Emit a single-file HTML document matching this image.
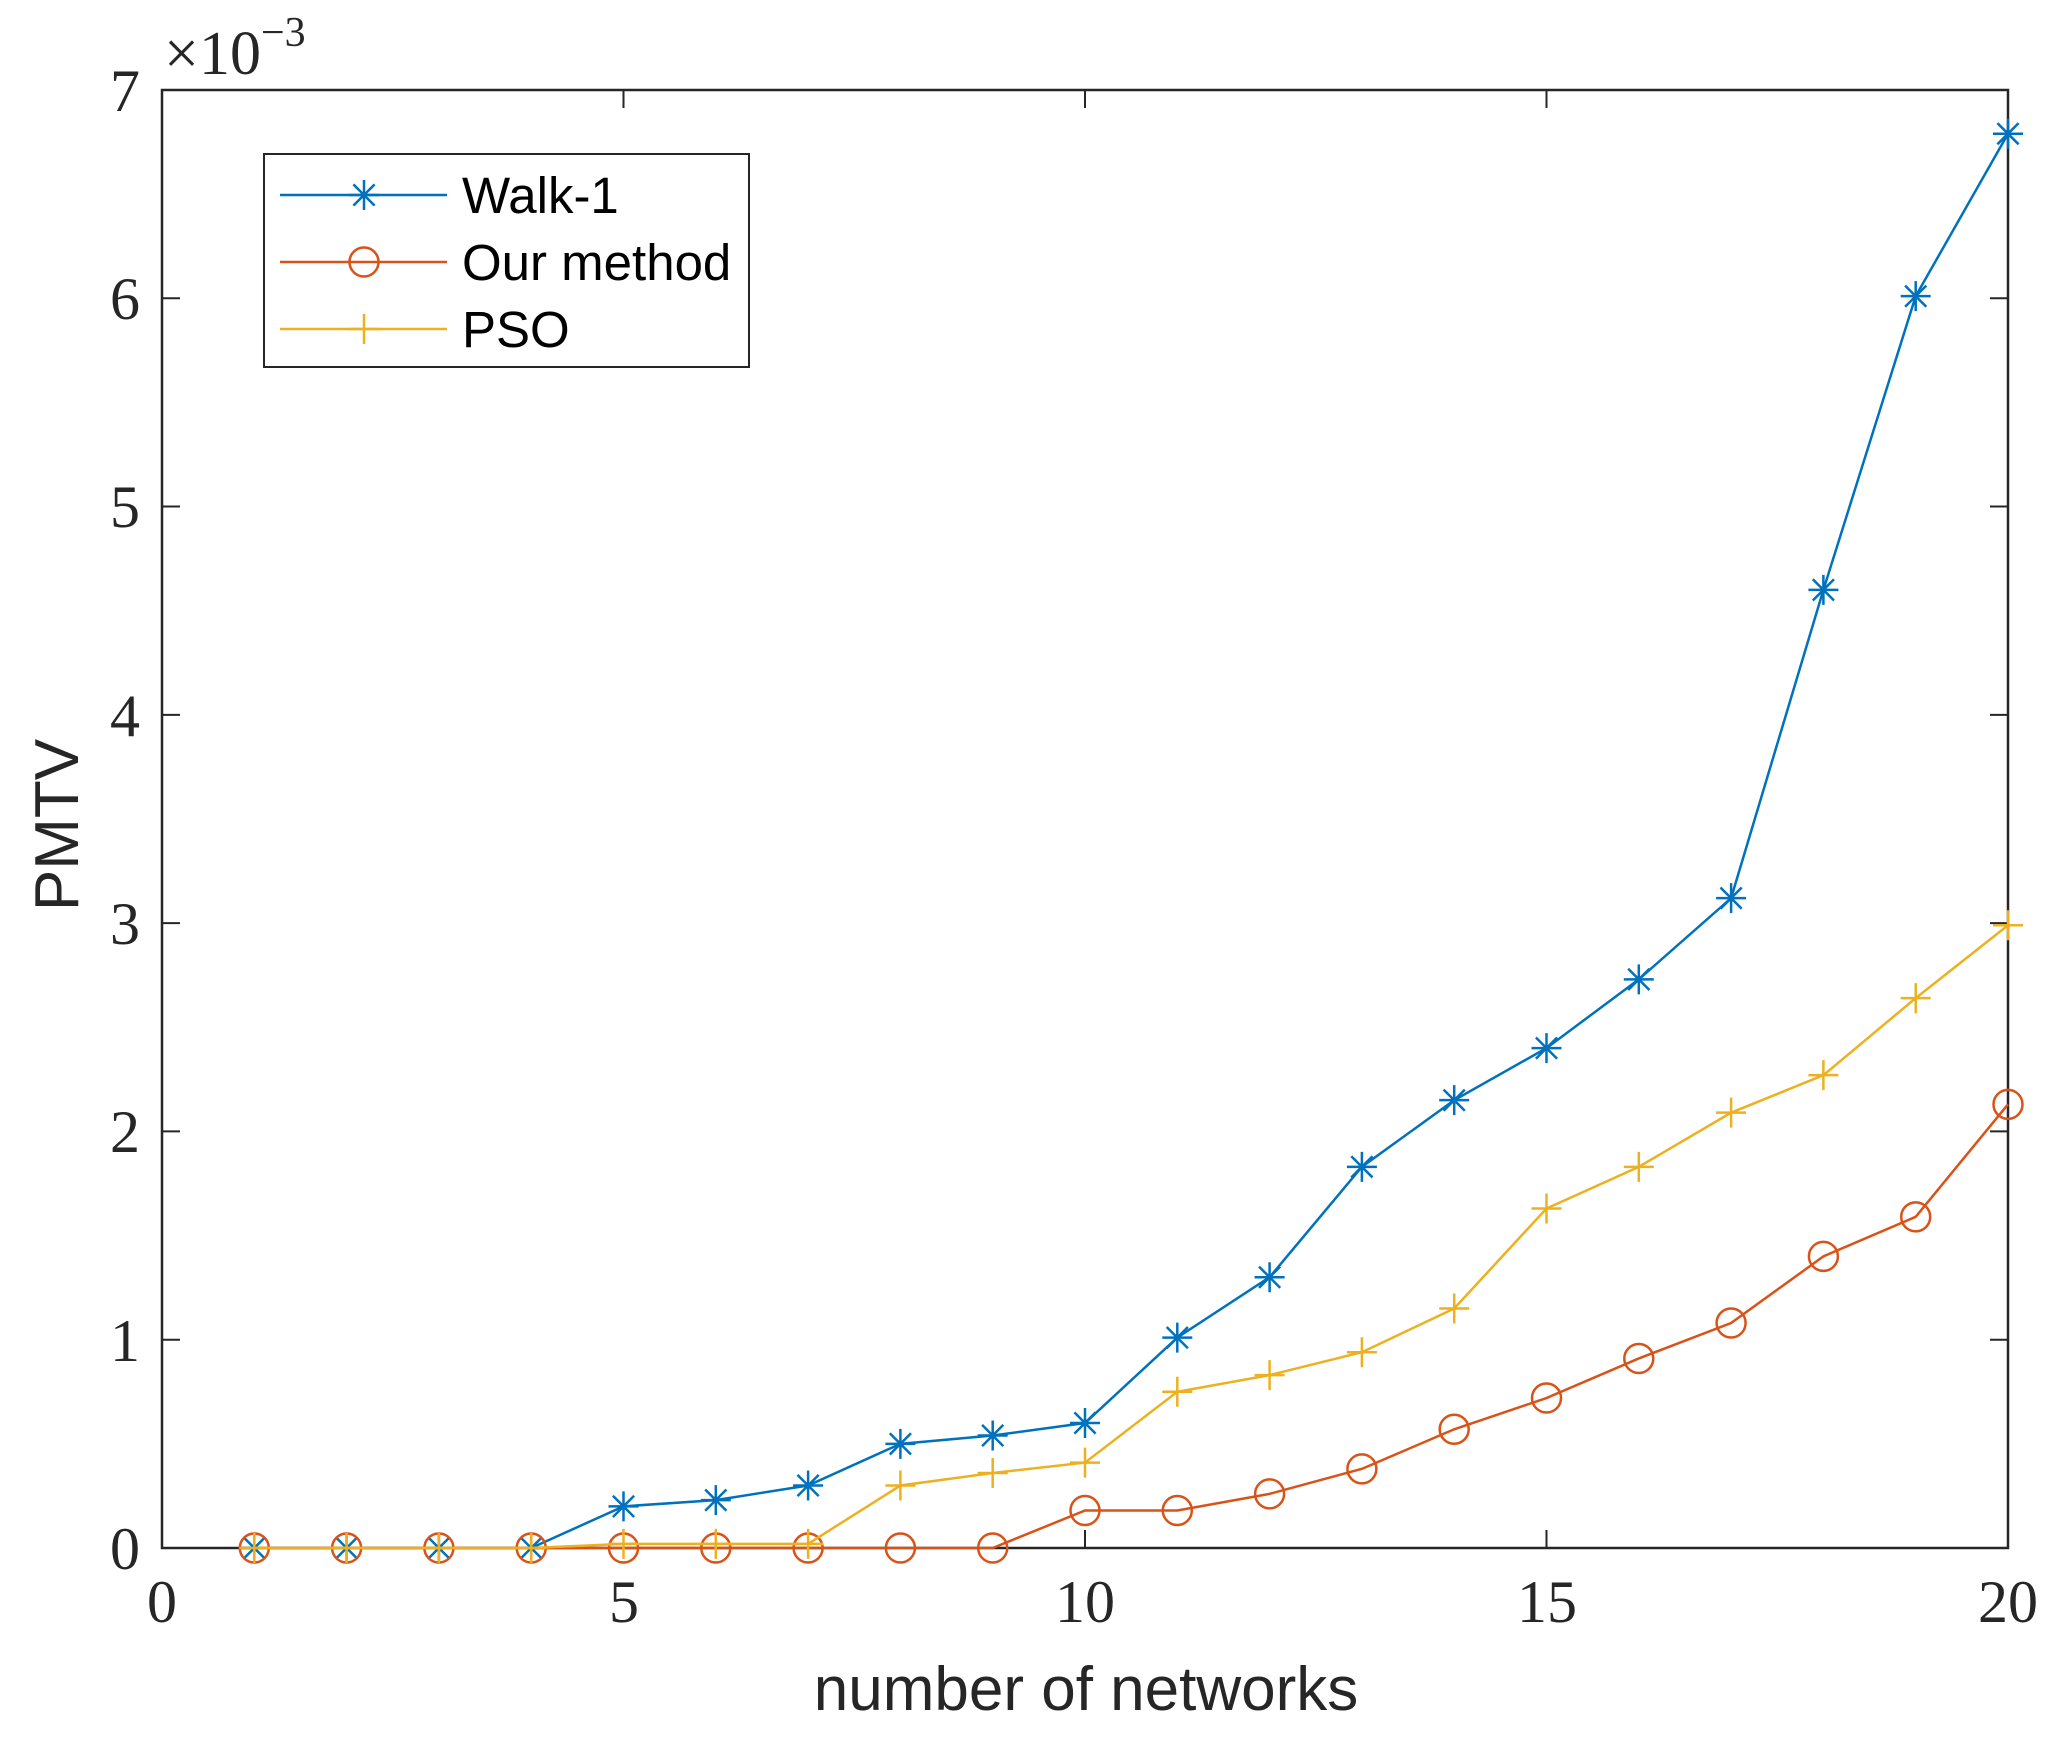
<!DOCTYPE html>
<html><head><style>
body{margin:0;background:#fff;}
.serif{font-family:"Liberation Serif",serif;}
.sans{font-family:"Liberation Sans",sans-serif;}
</style></head><body>
<svg id="s" width="2062" height="1742" xmlns="http://www.w3.org/2000/svg">
<rect x="0" y="0" width="2062" height="1742" fill="#fff"/>
<rect x="162" y="90" width="1846" height="1458" fill="none" stroke="#262626" stroke-width="2.5"/>
<g id="ticks" stroke="#262626" stroke-width="2"></g>
<g font-size="60" fill="#262626" text-anchor="middle">
<text class="serif" x="162" y="1622">0</text><text class="serif" x="624" y="1622">5</text><text class="serif" x="1085" y="1622">10</text><text class="serif" x="1547" y="1622">15</text><text class="serif" x="2008" y="1622">20</text>
</g>
<g font-size="60" fill="#262626" text-anchor="end">
<text class="serif" x="140" y="1569">0</text><text class="serif" x="140" y="1361">1</text><text class="serif" x="140" y="1152">2</text><text class="serif" x="140" y="944">3</text><text class="serif" x="140" y="736">4</text><text class="serif" x="140" y="527">5</text><text class="serif" x="140" y="319">6</text><text class="serif" x="140" y="111">7</text>
</g>
<text class="serif" x="164" y="74" font-size="62" fill="#262626">×10<tspan font-size="42" dy="-28">−3</tspan></text>
<text class="sans" x="1086" y="1710" font-size="62" fill="#262626" text-anchor="middle">number of networks</text>
<text class="sans" transform="translate(78,825) rotate(-90)" font-size="62" fill="#262626" text-anchor="middle">PMTV</text>
<g id="series"></g>
<rect x="264" y="154" width="485" height="213" fill="#fff" stroke="#262626" stroke-width="2"/>
<g id="leg"></g>
<g font-size="51" fill="#000">
<text class="sans" x="462" y="213">Walk-1</text><text class="sans" x="462" y="280">Our method</text><text class="sans" x="462" y="347">PSO</text>
</g>
</svg>
<script>
const NS="http://www.w3.org/2000/svg";
function el(p,t,a){const e=document.createElementNS(NS,t);for(const k in a)e.setAttribute(k,a[k]);p.appendChild(e);return e;}
const X=v=>162+v*92.3, Y=v=>1548-v*208.29;
const tk=document.getElementById('ticks');
for(let i=0;i<=20;i+=5){el(tk,'line',{x1:X(i),y1:1548,x2:X(i),y2:1530});el(tk,'line',{x1:X(i),y1:90,x2:X(i),y2:108});}
for(let j=0;j<=7;j++){el(tk,'line',{x1:162,y1:Y(j),x2:180,y2:Y(j)});el(tk,'line',{x1:2008,y1:Y(j),x2:1990,y2:Y(j)});}
const W=[0,0,0,0,0.2,0.23,0.3,0.5,0.54,0.6,1.01,1.3,1.83,2.15,2.4,2.73,3.12,4.6,6.01,6.79];
const O=[0,0,0,0,0,0,0,0,0,0.18,0.18,0.26,0.38,0.57,0.72,0.91,1.08,1.4,1.59,2.13];
const P=[0,0,0,0,0.02,0.02,0.02,0.3,0.36,0.41,0.75,0.83,0.94,1.15,1.63,1.83,2.09,2.27,2.64,2.99];
const g=document.getElementById('series');
function mark(p,type,x,y,c){
 if(type=='o')el(p,'circle',{cx:x,cy:y,r:14.5,fill:'none',stroke:c,'stroke-width':2.5});
 else if(type=='+'){el(p,'path',{d:`M${x-15} ${y}H${x+15}M${x} ${y-15}V${y+15}`,stroke:c,'stroke-width':2.5});}
 else{const r=15,d=r*0.707;el(p,'path',{d:`M${x-r} ${y}H${x+r}M${x} ${y-r}V${y+r}M${x-d} ${y-d}L${x+d} ${y+d}M${x-d} ${y+d}L${x+d} ${y-d}`,stroke:c,'stroke-width':2.5});}
}
function ser(D,c,t){
 el(g,'polyline',{points:D.map((v,i)=>X(i+1)+','+Y(v)).join(' '),fill:'none',stroke:c,'stroke-width':2.5});
 D.forEach((v,i)=>mark(g,t,X(i+1),Y(v),c));
}
ser(W,'#0072BD','*');ser(O,'#D95319','o');ser(P,'#EDB120','+');
const L=document.getElementById('leg');
[['#0072BD','*',195],['#D95319','o',262],['#EDB120','+',329]].forEach(([c,t,y])=>{
 el(L,'line',{x1:280,y1:y,x2:447,y2:y,stroke:c,'stroke-width':2.5});mark(L,t,364,y,c);});
</script>
</body></html>
